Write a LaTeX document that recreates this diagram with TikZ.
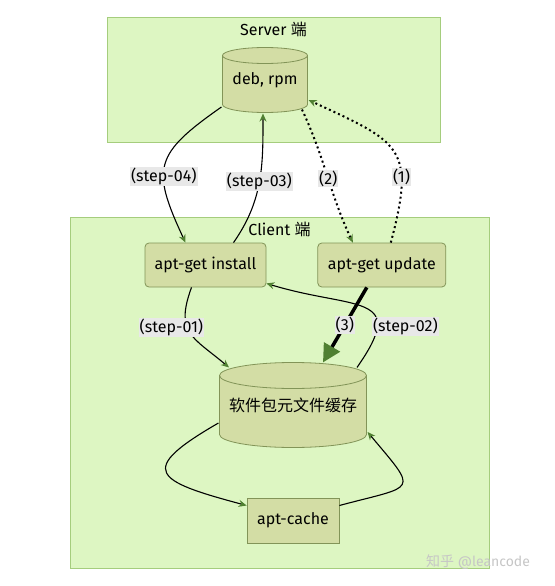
\documentclass[tikz,border=0pt]{standalone}
\usepackage{fontspec}
\setmainfont{Fira Sans}
\newfontfamily\cjk{Noto Sans CJK SC}
\usetikzlibrary{arrows.meta,calc,positioning}
\definecolor{areafill}{RGB}{221,246,194}
\definecolor{arealine}{RGB}{165,205,125}
\definecolor{nodefill}{RGB}{211,221,165}
\definecolor{nodeline}{RGB}{130,148,88}
\definecolor{tipgreen}{RGB}{80,128,50}
\definecolor{labelbg}{RGB}{232,232,232}
\tikzset{
  every picture/.style = {
    line width = 1.1pt,
    >={Stealth[length=8pt,width=7pt,color=tipgreen]},
    node distance = 1.5em and 3em,
  }
  ,
  area/.style = {
    rectangle,
    draw = arealine,
    fill = areafill,
    line width = 0.8pt
  }
  ,
  area-title/.style = {
    font = \fontsize{16}{18}\selectfont
  }
  ,
  cmd/.style = {
    rectangle,
    rounded corners = 4pt,
    draw = nodeline,
    fill = nodefill,
    line width = 0.8pt,
    font = \fontsize{16}{18}\selectfont
  }
  , % cylinder drawn inside the node box, #1 = end radius
  db/.style = {
    rectangle,
    inner sep = 0pt,
    font = \fontsize{16}{18}\selectfont,
    path picture = {
      \path[draw=nodeline, fill=nodefill, line width=0.8pt]
        let \p1 = ([shift={(0.5,0.5)}]path picture bounding box.south west),
            \p2 = ([shift={(-0.5,-0.5)}]path picture bounding box.north east),
            \n1 = {(\x2-\x1)/2}
        in (\x1,\y2-#1) -- (\x1,\y1+#1)
           arc[start angle=180, end angle=360, x radius=\n1, y radius=#1pt]
           -- (\x2,\y2-#1)
           arc[start angle=0, end angle=180, x radius=\n1, y radius=#1pt]
           -- cycle
           (\x1,\y2-#1) arc[start angle=180, end angle=360, x radius=\n1, y radius=#1pt];
    }
  }
  , % labels of edges
  label-edge/.style = {
    fill = labelbg,
    inner sep = 1pt,
    font = \fontsize{16}{18}\selectfont
  }
  ,
  dotflow/.style = {
    dash pattern = on 2pt off 3pt,
    line width = 2pt
  }
}
\begin{document}
\begin{tikzpicture}[x=1pt,y=1pt]
    \useasboundingbox (0,0) rectangle (554,-586);
    % Server and Client areas
    \node [area, minimum width=333pt, minimum height=125pt] (server) at (273.5,-79.5) {};
    \node [area-title, below=2pt of server.north] (server-title) {Server {\cjk 端}};
    \node [area, minimum width=419pt, minimum height=351pt] (client) at (279.5,-392.5) {};
    \node [area-title, below=2pt of client.north] (client-title) {Client {\cjk 端}};

    \node [db=8, minimum width=86pt, minimum height=66pt] (repo) at (265,-80) {deb, rpm};
    \node [cmd, minimum width=121pt, minimum height=44pt] (install) at (205.5,-265) {apt-get install};
    \node [cmd, minimum width=128pt, minimum height=44pt, right=51pt of install] (update) {apt-get update};
    \node [db=13, minimum width=148pt, minimum height=86pt] (meta) at (293,-405) {\cjk 软件包元文件缓存};
    \node [cmd, rounded corners=0pt, minimum width=92pt, minimum height=45pt] (aptcache) at (293,-520.5) {apt-cache};

    \path[->] ([yshift=-27pt]repo.west) edge[out=215, in=115, looseness=1.5] node [label-edge, pos=0.6] {(step-04)} ([xshift=-20pt]install.north)
        ([xshift=28pt]install.north) edge[out=55, in=270] node [label-edge, pos=0.5] {(step-03)} ([xshift=-2pt]repo.south)
        ([xshift=37pt,yshift=4pt]repo.south) edge[dotflow, out=-65, in=115] node [label-edge, pos=0.52] {(2)} ([xshift=-29pt]update.north)
        ([xshift=9pt]update.north) edge[dotflow, out=75, in=-25, looseness=1.55] node [label-edge, pos=0.3] {(1)} ([yshift=-20pt]repo.east)
        ([xshift=-14pt]install.south) edge[out=250, in=140, looseness=1.4] node [label-edge, pos=0.42, xshift=-16pt] {(step-01)} ([xshift=-64pt,yshift=-6pt]meta.north)
        ([xshift=64pt,yshift=-6pt]meta.north) edge[out=55, in=-17, looseness=1.9] node [label-edge, pos=0.25, xshift=28pt] {(step-02)} ([yshift=4pt]install.south east)
        ([xshift=-15pt]update.south) edge[line width=3.5pt, -{Triangle[length=18pt,width=18pt,color=tipgreen]}] node [label-edge, pos=0.5] {(3)} ([xshift=30pt,yshift=-1pt]meta.north)
        ([yshift=-18pt]meta.west) edge[out=210, in=165, looseness=2.8] ([yshift=15pt]aptcache.west)
        ([yshift=15pt]aptcache.east) edge[out=15, in=-50, looseness=2.6] ([yshift=-27pt]meta.east);
    %watermark
    \node [text=gray!45, font=\fontsize{14}{16}\selectfont] (mark) at (478,-562) {{\cjk 知乎} @leancode};
\end{tikzpicture}
\end{document}
